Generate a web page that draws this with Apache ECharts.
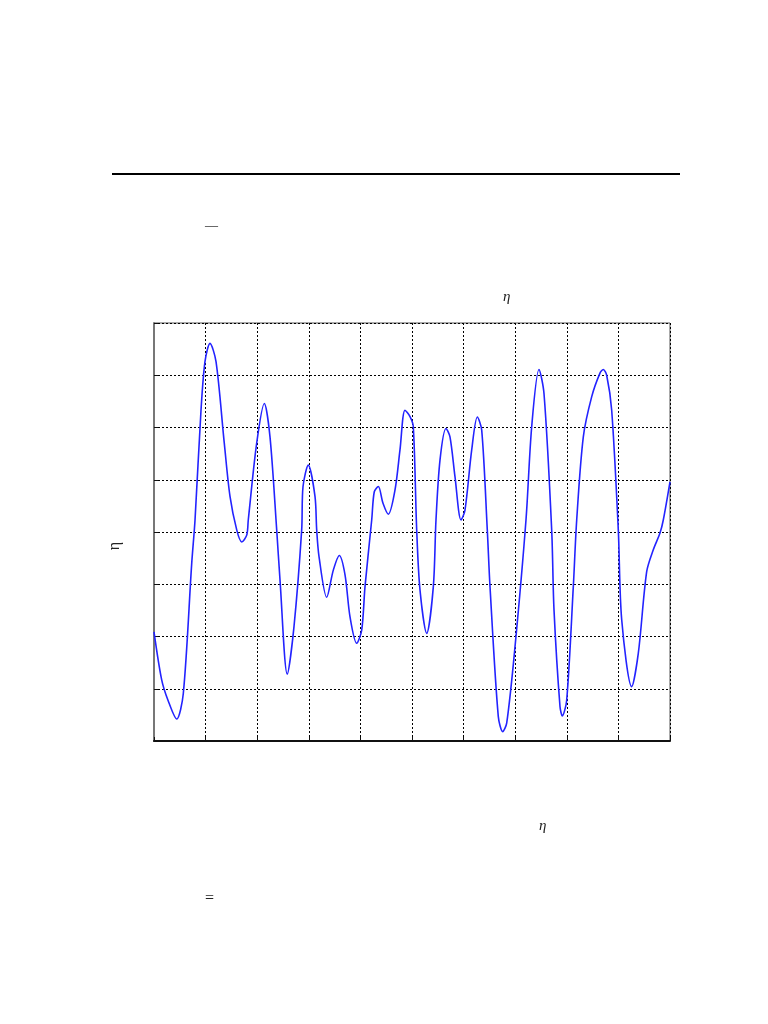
<!DOCTYPE html>
<html>
<head>
<meta charset="utf-8">
<script src="https://cdn.jsdelivr.net/npm/echarts@6/dist/echarts.min.js"></script>
<style>
  html, body { margin: 0; padding: 0; background: #fff; }
  #chart { width: 768px; height: 1024px; }
</style>
</head>
<body>
<div id="chart"></div>
<script>
// curve (x: 0..10 grid columns, y: 0..8 grid rows)
const xs = [0, 0.149, 0.271, 0.44, 0.568, 0.731, 0.795, 0.911, 0.988, 1.085,
  1.202, 1.362, 1.473, 1.603, 1.70, 1.797, 1.827, 1.99, 2.138, 2.248,
  2.378, 2.442, 2.583, 2.713, 2.862, 2.888, 2.99, 3.12, 3.153, 3.198,
  3.347, 3.475, 3.591, 3.702, 3.798, 3.928, 4.025, 4.089, 4.219, 4.269,
  4.347, 4.438, 4.541, 4.67, 4.767, 4.864, 4.961, 5.025, 5.091, 5.155,
  5.285, 5.413, 5.465, 5.543, 5.659, 5.736, 5.833, 5.95, 6.027, 6.157,
  6.266, 6.351, 6.459, 6.512, 6.672, 6.758, 6.835, 6.996, 7.209, 7.32,
  7.461, 7.558, 7.707, 7.752, 7.868, 7.913, 7.998, 8.126, 8.192, 8.32,
  8.483, 8.643, 8.707, 8.773, 8.87, 8.998, 9.064, 9.258, 9.386, 9.548,
  9.676, 9.806, 9.87, 10];
const ys = [2.09, 1.17, 0.78, 0.42, 0.91, 3.40, 4.23, 6.33, 7.26, 7.61,
  7.26, 5.70, 4.68, 4.04, 3.81, 3.94, 4.23, 5.70, 6.46, 5.82,
  4.04, 3.08, 1.28, 2.19, 4.04, 4.87, 5.28, 4.68, 4.04, 3.53,
  2.75, 3.27, 3.55, 3.18, 2.38, 1.87, 2.12, 2.95, 4.23, 4.77,
  4.87, 4.55, 4.34, 4.80, 5.57, 6.33, 6.21, 6.02, 4.04, 2.89,
  2.06, 2.95, 4.23, 5.38, 5.98, 5.82, 5.06, 4.23, 4.42, 5.57,
  6.20, 5.95, 4.04, 2.95, 0.47, 0.18, 0.34, 1.80, 4.23, 6.02,
  7.11, 6.65, 4.04, 2.51, 0.66, 0.48, 0.78, 2.95, 4.23, 5.82,
  6.59, 7.04, 7.11, 7.00, 6.33, 4.04, 2.32, 1.04, 1.68, 3.24,
  3.66, 3.98, 4.23, 4.96];

const yName = 'η';
const topMark = '—';
const midLabel = 'η';
const lowLabel = 'η';
const eqLabel = '=';

const chart = echarts.init(document.getElementById('chart'));
const serif = '"Liberation Serif", "DejaVu Serif", serif';

const option = {
  backgroundColor: '#fff',
  animation: false,
  grid: {
    left: 154, right: 98, top: 323, bottom: 283,
    show: true, borderColor: '#555', borderWidth: 1
  },
  xAxis: {
    type: 'value', min: 0, max: 10, interval: 1,
    axisLine: { show: true, lineStyle: { color: '#111', width: 2 } },
    axisTick: { show: true, inside: true, length: 4, lineStyle: { color: '#111' } },
    axisLabel: { show: false },
    splitLine: { show: true, lineStyle: { type: [2, 2], color: '#000', width: 1 } }
  },
  yAxis: {
    type: 'value', min: 0, max: 8, interval: 1,
    axisLine: { show: true, lineStyle: { color: '#777', width: 2 } },
    axisTick: { show: true, inside: true, length: 4, lineStyle: { color: '#111' } },
    axisLabel: { show: false },
    splitLine: { show: true, lineStyle: { type: [2, 2], color: '#000', width: 1 } }
  },
  series: [{
    type: 'line',
    data: xs.map((x, i) => [x, ys[i]]),
    showSymbol: false,
    smooth: 0.3,
    lineStyle: { color: '#2323ff', width: 1.6 }
  }],
  graphic: [
    { type: 'line', shape: { x1: 112, y1: 174, x2: 680, y2: 174 },
      style: { stroke: '#000', lineWidth: 2 } },
    { type: 'text', left: 205, top: 219,
      style: { text: topMark, font: 'bold 13px ' + serif, fill: '#555' } },
    { type: 'text', left: 503, top: 290,
      style: { text: midLabel, font: 'italic 15px ' + serif, fill: '#222' } },
    { type: 'text', x: 115, y: 546, rotation: Math.PI / 2,
      style: { text: yName, font: '16px ' + serif, fill: '#222',
        textAlign: 'center', textVerticalAlign: 'middle' } },
    { type: 'text', left: 539, top: 819,
      style: { text: lowLabel, font: 'italic 15px ' + serif, fill: '#222' } },
    { type: 'text', left: 205, top: 891,
      style: { text: eqLabel, font: '16px ' + serif, fill: '#222' } }
  ]
};

chart.setOption(option);
window.onresize = chart.resize;
</script>
</body>
</html>
